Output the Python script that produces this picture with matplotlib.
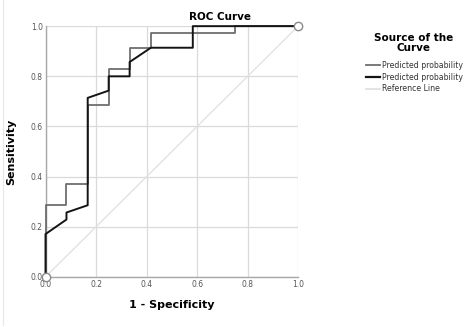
import numpy as np
import matplotlib
matplotlib.use("Agg")
import matplotlib.pyplot as plt
from matplotlib.lines import Line2D

# ------------------------------------------------------------
# DATA (12 negatives / 35 positives)
# ------------------------------------------------------------

fpr_a  = [0.0, 0.0, 0.083, 0.083, 0.167, 0.167, 0.25, 0.25, 0.333, 0.333, 0.417, 0.417, 0.75, 0.75, 1.0]
tpr_a  = [0.0, 0.286, 0.286, 0.371, 0.371, 0.686, 0.686, 0.829, 0.829, 0.914, 0.914, 0.971, 0.971, 1.0, 1.0]

fpr_b  = [0.0, 0.0, 0.083, 0.083, 0.167, 0.167, 0.25, 0.25, 0.333, 0.333, 0.417, 0.583, 0.583, 1.0]
tpr_b  = [0.0, 0.171, 0.229, 0.257, 0.286, 0.714, 0.743, 0.80, 0.80, 0.857, 0.914, 0.914, 1.0, 1.0]

ticks = [0.0, 0.2, 0.4, 0.6, 0.8, 1.0]
legend_labels = ["Predicted probability", "Predicted probability", "Reference Line"]

COL_A   = "#6e6e6e"
COL_B   = "#141414"
COL_REF = "#e2e2e2"

# ------------------------------------------------------------
# PLOT
# ------------------------------------------------------------

fig = plt.figure(figsize=(4.74, 3.27), dpi=100)
ax = fig.add_axes([0.096, 0.153, 0.533, 0.767])

ax.plot([0, 1], [0, 1], color=COL_REF, lw=1.0, zorder=1)
ax.plot(fpr_a, tpr_a, color=COL_A, lw=1.3, zorder=3, clip_on=False)
ax.plot(fpr_b, tpr_b, color=COL_B, lw=1.4, zorder=4, clip_on=False)
ax.plot([0, 1], [0, 1], ls="none", marker="o", ms=6, mfc="white",
        mec="#8a8a8a", mew=1.0, zorder=5, clip_on=False)

ax.set_xlim(0, 1)
ax.set_ylim(0, 1)
ax.set_xticks(ticks)
ax.set_yticks(ticks)
ax.set_xticklabels([f"{t:.1f}" for t in ticks])
ax.set_yticklabels([f"{t:.1f}" for t in ticks])
ax.tick_params(labelsize=5.5, colors="#555555", length=0, pad=2)
ax.grid(color="#dadada", lw=0.9)
ax.set_axisbelow(True)
for side in ["top", "right"]:
    ax.spines[side].set_visible(False)
for side in ["left", "bottom"]:
    ax.spines[side].set_color("#a8a8a8")
    ax.spines[side].set_linewidth(1.0)
    ax.spines[side].set_zorder(2)

ax.set_xlabel("1 - Specificity", fontsize=8, fontweight="bold", labelpad=8)
ax.set_ylabel("Sensitivity", fontsize=8, fontweight="bold", labelpad=10)

fig.text(0.464, 0.948, "ROC Curve", ha="center", va="center",
         fontsize=7.5, fontweight="bold")

# legend
fig.text(0.872, 0.87, "Source of the\nCurve", ha="center", va="center",
         fontsize=7.5, fontweight="bold", linespacing=1.0)
handles = [Line2D([], [], color=COL_A, lw=1.3),
           Line2D([], [], color=COL_B, lw=1.6),
           Line2D([], [], color=COL_REF, lw=1.3)]
fig.legend(handles, legend_labels, loc="upper left", bbox_to_anchor=(0.757, 0.835),
           frameon=False, fontsize=5.6, handlelength=1.8, handletextpad=0.3,
           labelspacing=0.35, labelcolor="#333333")

# faint frame line on the left edge
fig.add_artist(Line2D([0.007, 0.007], [0.005, 1.0], color="#e6e6e6", lw=0.8))

fig.savefig("out.png", dpi=100)
plt.close()
